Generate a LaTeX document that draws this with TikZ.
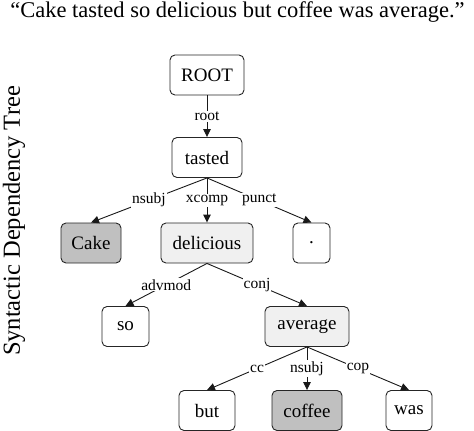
\documentclass[tikz,border=0pt]{standalone}
\usepackage{fontspec}
\setmainfont{Liberation Serif}
\newfontfamily\timesfont{Liberation Serif}
\usetikzlibrary{arrows.meta}
\definecolor{darkfill}{RGB}{192,192,192}
\definecolor{lightfill}{RGB}{240,240,240}
\begin{document}
\begin{tikzpicture}[x=1pt,y=-1pt,
  word/.style={draw=black!85, line width=0.9pt, rounded corners=5pt, fill=white,
    minimum height=40pt, inner sep=0pt, font=\timesfont\fontsize{19}{19}\selectfont},
  dark/.style={fill=darkfill},
  light/.style={fill=lightfill},
  dep/.style={draw=black!90, line width=0.9pt, -{Triangle[length=8pt,width=7.5pt]}},
  lab/.style={fill=white, inner sep=1pt, font=\timesfont\fontsize{15.5}{15.5}\selectfont}]
\useasboundingbox (0,0) rectangle (474,431);
\node[anchor=base, font=\timesfont\fontsize{22.5}{22.5}\selectfont] (title) at (237.5,17) {“Cake tasted so delicious but coffee was average.”};
\node[rotate=90, font=\timesfont\fontsize{24.5}{24.5}\selectfont] (side) at (14,221) {Syntactic Dependency Tree};

\node[word, minimum width=74pt] (root) at (207,75) {ROOT};
\node[word, minimum width=70pt] (tasted) at (207,157.5) {tasted};
\node[word, dark, minimum width=60pt] (cake) at (91,243) {Cake};
\node[word, light, minimum width=92pt] (delicious) at (207,243) {delicious};
\node[word, minimum width=37pt] (dot) at (311.5,243) {.};
\node[word, minimum width=47pt] (so) at (125.5,326.5) {so};
\node[word, light, minimum width=84pt] (average) at (307,326.5) {average};
\node[word, minimum width=56pt] (but) at (207,410.5) {but};
\node[word, dark, minimum width=70pt] (coffee) at (307,410.5) {coffee};
\node[word, minimum width=46pt] (was) at (409,410.5) {was};

\draw[dep] (root.south) -- node[lab] {root} (tasted.north);
\draw[dep] (tasted.south) -- node[lab] {nsubj} (cake.north);
\draw[dep] (tasted.south) -- node[lab] {xcomp} (delicious.north);
\draw[dep] (tasted.south) -- node[lab] {punct} (dot.north);
\draw[dep] (delicious.south) -- node[lab] {advmod} (so.north);
\draw[dep] (delicious.south) -- node[lab] {conj} (average.north);
\draw[dep] (average.south) -- node[lab] {cc} (but.north);
\draw[dep] (average.south) -- node[lab] {nsubj} (coffee.north);
\draw[dep] (average.south) -- node[lab] {cop} (was.north);
\end{tikzpicture}
\end{document}
